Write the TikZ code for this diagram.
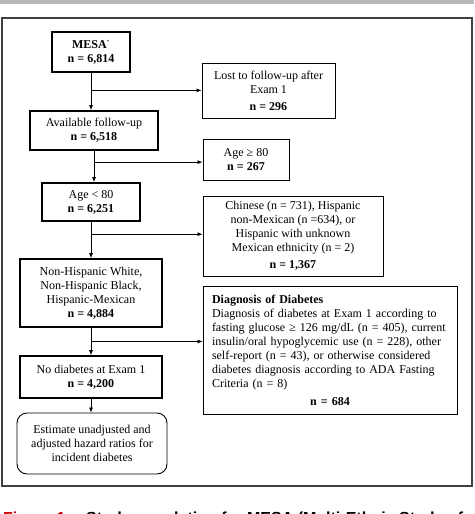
\documentclass[tikz,border=0pt]{standalone}
\usepackage{fontspec}
\setmainfont{Liberation Serif}
\newfontfamily\capfont{Liberation Sans}
\usepackage{tikz}
\usetikzlibrary{positioning}
\usetikzlibrary{arrows.meta,calc}

\begin{document}
\begin{tikzpicture}[x=1pt,y=-1pt,
  every node/.style={font=\fontsize{12}{14}\selectfont},
  thick box/.style={draw,line width=1.8pt,align=center,inner sep=0pt},
  thin box/.style={draw,line width=0.9pt,align=center,inner sep=0pt},
  flow/.style={-{Latex[length=5pt,width=4pt]},line width=0.7pt}]
\useasboundingbox (0,0) rectangle (474,514);
\fill[gray!55] (0,0) rectangle (474,4);
\draw[line width=1.4pt,black!75] (2,18) rectangle (472,486);

% left column
\node (mesa) [thick box,minimum width=78pt,minimum height=40pt] at (91,52) {\textbf{MESA}\textsuperscript{\tiny *}\\ \textbf{n = 6,814}};
\node (avail) [thick box,minimum width=128pt,minimum height=39pt] at (94,130.5) {Available follow-up\\ \textbf{n = 6,518}};
\node (young) [thick box,minimum width=98pt,minimum height=38pt] at (91,202) {Age < 80\\ \textbf{n = 6,251}};
\node (race) [thick box,minimum width=142pt,minimum height=68pt] at (91,293) {Non-Hispanic White,\\ Non-Hispanic Black,\\ Hispanic-Mexican\\ \textbf{n = 4,884}};
\node (nodiab) [thick box,minimum width=142pt,minimum height=42pt] at (91,377) {No diabetes at Exam 1\\ \textbf{n = 4,200}};
\node (est) [thin box,rounded corners=10pt,minimum width=150pt,minimum height=61pt] at (92,443.5) {Estimate unadjusted and\\ adjusted hazard ratios for\\ incident diabetes};

% right column
\node (lost) [thin box,minimum width=133pt,minimum height=55pt] at (268.5,90.5) {Lost to follow-up after\\ Exam 1\\[3pt] \textbf{n = 296}};
\node (old) [thin box,minimum width=86pt,minimum height=41pt] at (246,159.5) {Age ≥ 80\\ \textbf{n = 267}};
\node (excl) [thin box,minimum width=180pt,minimum height=80pt] at (293,236) {Chinese (n = 731), Hispanic\\ non-Mexican (n =634), or\\ Hispanic with unknown\\ Mexican ethnicity (n = 2)\\[3pt] \textbf{n = 1,367}};
\node (diab) [draw,line width=0.9pt,inner xsep=9pt,text width=236pt,minimum height=128pt] at (330,350) {\textbf{Diagnosis of Diabetes}\\ Diagnosis of diabetes at Exam 1 according to\\ fasting glucose ≥ 126 mg/dL (n = 405), current\\ insulin/oral hypoglycemic use (n = 228), other\\ self-report (n = 43), or otherwise considered\\ diabetes diagnosis according to ADA Fasting\\ Criteria (n = 8)\\[4pt] \makebox[236pt]{\textbf{n = 684}}};

% connectors
\draw[flow] (mesa.south) -- (mesa.south |- avail.north);
\coordinate (b1) at ($(mesa.south)!0.47!(mesa.south |- avail.north)$);
\draw[flow] (b1) -- (b1 -| lost.west);
\draw[flow] (avail.south) -- (avail.south |- young.north);
\coordinate (b2) at ($(avail.south)!0.36!(avail.south |- young.north)$);
\draw[flow] (b2) -- (b2 -| old.west);
\draw[flow] (young.south) -- (young.south |- race.north);
\coordinate (b3) at ($(young.south)!0.34!(young.south |- race.north)$);
\draw[flow] (b3) -- (b3 -| excl.west);
\draw[flow] (race.south) -- (race.south |- nodiab.north);
\coordinate (b4) at ($(race.south)!0.5!(race.south |- nodiab.north)$);
\draw[flow] (b4) -- (b4 -| diab.west);
\draw[flow] (nodiab.south) -- (nodiab.south |- est.north);

% caption, cut by the page edge as in the scan
\node (caption) [anchor=base west,inner sep=0pt,font=\capfont\bfseries\fontsize{16}{18}\selectfont] at (3,523) {\textcolor{red!80!black}{Figure 1}\hspace{1.3em}Study population for MESA (Multi-Ethnic Study of};
\end{tikzpicture}
\end{document}
